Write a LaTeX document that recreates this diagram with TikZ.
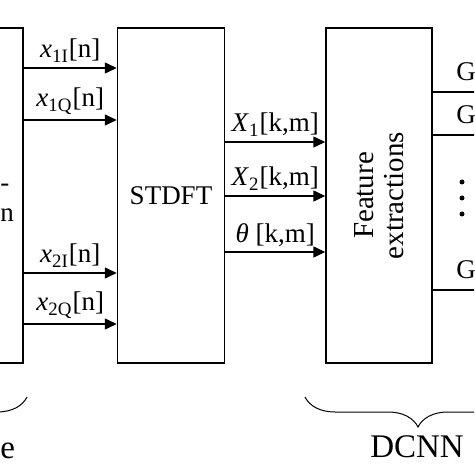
\documentclass[tikz,border=0pt]{standalone}
\usepackage{fontspec}
\setmainfont{Liberation Serif}
\usetikzlibrary{positioning,arrows.meta,decorations.pathreplacing}

\begin{document}
\begin{tikzpicture}[x=0.5pt,y=-0.5pt,font=\fontsize{13.5}{15}\selectfont,
  blk/.style={draw, line width=0.75pt, minimum height=167.5pt, inner sep=0pt},
  sig/.style={line width=0.75pt, -{Triangle[length=6pt,width=5.5pt]}},
  lab/.style={above, inner sep=2.5pt}]

\useasboundingbox (0,0) rectangle (474,474);
\clip (0,0) rectangle (474,474);

% blocks
\node[blk, minimum width=80pt] (src) at (-57,195.5) {};
\node[align=left, anchor=west, inner sep=0pt] (srctxt) at (0,203) {-\\n};
\node[blk, minimum width=53.5pt, right=46.5pt of src] (stdft) {STDFT};
\node[blk, minimum width=53pt, right=50pt of stdft] (feat) {};
\node[rotate=90, align=center, font=\fontsize{14.5}{15}\selectfont] (feattxt) at (feat.center) {Feature\\extractions};

% I/Q inputs
\draw[sig] (src.east |- 0,68) -- (stdft.west |- 0,68) node[lab, midway] {\textit{x}\textsubscript{1I}[n]};
\draw[sig] (src.east |- 0,120) -- (stdft.west |- 0,120) node[lab, midway] {\textit{x}\textsubscript{1Q}[n]};
\draw[sig] (src.east |- 0,273) -- (stdft.west |- 0,273) node[lab, midway] {\textit{x}\textsubscript{2I}[n]};
\draw[sig] (src.east |- 0,324) -- (stdft.west |- 0,324) node[lab, midway] {\textit{x}\textsubscript{2Q}[n]};

% spectra
\draw[sig] (stdft.east |- 0,142) -- (feat.west |- 0,142) node[lab, midway] {\textit{X}\textsubscript{1}[k,m]};
\draw[sig] (stdft.east |- 0,196) -- (feat.west |- 0,196) node[lab, midway] {\textit{X}\textsubscript{2}[k,m]};
\draw[sig] (stdft.east |- 0,252) -- (feat.west |- 0,252) node[lab, midway] {\textit{θ} [k,m]};

% outputs
\coordinate (o1) at (480,92);
\coordinate (o2) at (480,135);
\coordinate (o3) at (480,290);
\draw[line width=0.75pt] (feat.east |- o1) -- (o1);
\draw[line width=0.75pt] (feat.east |- o2) -- (o2);
\draw[line width=0.75pt] (feat.east |- o3) -- (o3);
\node[anchor=west, inner sep=0pt] (g1) at (456,72) {G};
\node[anchor=west, inner sep=0pt] (g2) at (456,115) {G};
\node[anchor=west, inner sep=0pt] (g3) at (456,270) {G};
\foreach \y in {182,198,214} \fill (462,\y) circle (2.5);

% braces
\draw[line width=0.5pt, decorate, decoration={brace, mirror, amplitude=15pt}] (-200,397) -- (27,397);
\draw[line width=0.5pt, decorate, decoration={brace, mirror, amplitude=15pt}] (305,397) -- (531,397);
\node[font=\fontsize{16.5}{18}\selectfont, anchor=west, inner sep=0pt] (srclab) at (0,451) {e};
\node[font=\fontsize{16.5}{18}\selectfont, inner sep=0pt] (dcnn) at (417,447) {DCNN};

\end{tikzpicture}
\end{document}
